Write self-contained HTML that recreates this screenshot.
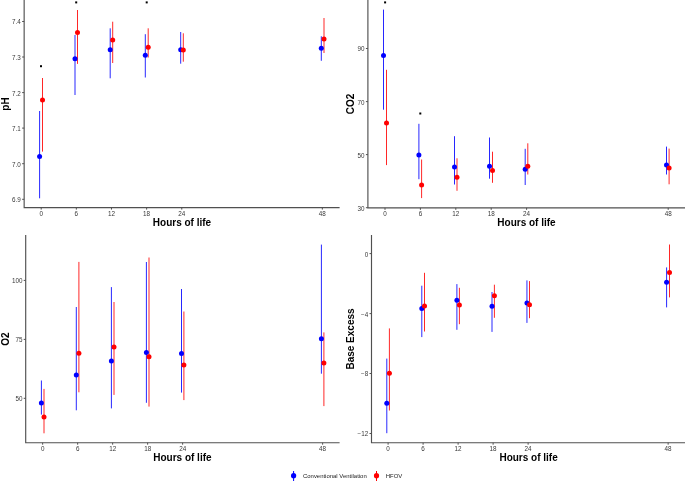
<!DOCTYPE html><html><head><meta charset="utf-8"><style>html,body{margin:0;padding:0;background:#fff;width:685px;height:481px;overflow:hidden;}svg{display:block;}text{font-family:"Liberation Sans",Arial,sans-serif;}</style></head><body>
<svg width="685" height="481" viewBox="0 0 685 481">
<rect width="685" height="481" fill="#fff"/><g>
<line x1="39.6" y1="111" x2="39.6" y2="198.3" stroke="#0000ff" stroke-width="0.85"/>
<line x1="75" y1="35" x2="75" y2="95" stroke="#0000ff" stroke-width="0.85"/>
<line x1="110.2" y1="28.3" x2="110.2" y2="78.3" stroke="#0000ff" stroke-width="0.85"/>
<line x1="145.3" y1="34.2" x2="145.3" y2="77.5" stroke="#0000ff" stroke-width="0.85"/>
<line x1="180.7" y1="32" x2="180.7" y2="63.7" stroke="#0000ff" stroke-width="0.85"/>
<line x1="321.3" y1="36.3" x2="321.3" y2="60.8" stroke="#0000ff" stroke-width="0.85"/>
<line x1="42.5" y1="78" x2="42.5" y2="151.6" stroke="#ff0000" stroke-width="0.85"/>
<line x1="77.5" y1="10" x2="77.5" y2="63.9" stroke="#ff0000" stroke-width="0.85"/>
<line x1="112.7" y1="21.7" x2="112.7" y2="63" stroke="#ff0000" stroke-width="0.85"/>
<line x1="148.2" y1="28.3" x2="148.2" y2="57.5" stroke="#ff0000" stroke-width="0.85"/>
<line x1="183.3" y1="33.3" x2="183.3" y2="61.7" stroke="#ff0000" stroke-width="0.85"/>
<line x1="324" y1="18" x2="324" y2="53" stroke="#ff0000" stroke-width="0.85"/>
<circle cx="39.6" cy="156.5" r="2.5" fill="#0000ff"/>
<circle cx="75" cy="58.7" r="2.5" fill="#0000ff"/>
<circle cx="110.2" cy="49.7" r="2.5" fill="#0000ff"/>
<circle cx="145.3" cy="55.3" r="2.5" fill="#0000ff"/>
<circle cx="180.7" cy="49.7" r="2.5" fill="#0000ff"/>
<circle cx="321.3" cy="48.2" r="2.5" fill="#0000ff"/>
<circle cx="42.5" cy="100" r="2.5" fill="#ff0000"/>
<circle cx="77.5" cy="32.5" r="2.5" fill="#ff0000"/>
<circle cx="112.7" cy="40" r="2.5" fill="#ff0000"/>
<circle cx="148.2" cy="47.2" r="2.5" fill="#ff0000"/>
<circle cx="183.3" cy="50" r="2.5" fill="#ff0000"/>
<circle cx="324" cy="39" r="2.5" fill="#ff0000"/>
<rect x="40" y="65.2" width="2" height="2" fill="#000"/>
<rect x="75.2" y="1.4" width="2" height="2" fill="#000"/>
<rect x="145.7" y="1.4" width="2" height="2" fill="#000"/>
<path d="M24.15 -1V207.6H339.6" fill="none" stroke="#505050" stroke-width="1.15"/>
<line x1="22.15" y1="199.3" x2="24.15" y2="199.3" stroke="#505050" stroke-width="1"/>
<text x="20.849999999999998" y="202.20000000000002" font-size="6.3" fill="#383838" text-anchor="end">6.9</text>
<line x1="22.15" y1="163.7" x2="24.15" y2="163.7" stroke="#505050" stroke-width="1"/>
<text x="20.849999999999998" y="166.6" font-size="6.3" fill="#383838" text-anchor="end">7.0</text>
<line x1="22.15" y1="128.1" x2="24.15" y2="128.1" stroke="#505050" stroke-width="1"/>
<text x="20.849999999999998" y="131.0" font-size="6.3" fill="#383838" text-anchor="end">7.1</text>
<line x1="22.15" y1="92.6" x2="24.15" y2="92.6" stroke="#505050" stroke-width="1"/>
<text x="20.849999999999998" y="95.5" font-size="6.3" fill="#383838" text-anchor="end">7.2</text>
<line x1="22.15" y1="57.0" x2="24.15" y2="57.0" stroke="#505050" stroke-width="1"/>
<text x="20.849999999999998" y="59.9" font-size="6.3" fill="#383838" text-anchor="end">7.3</text>
<line x1="22.15" y1="21.5" x2="24.15" y2="21.5" stroke="#505050" stroke-width="1"/>
<text x="20.849999999999998" y="24.4" font-size="6.3" fill="#383838" text-anchor="end">7.4</text>
<line x1="41.20" y1="207.6" x2="41.20" y2="209.6" stroke="#505050" stroke-width="1"/>
<text x="41.20" y="215.5" font-size="6.3" fill="#383838" text-anchor="middle">0</text>
<line x1="76.34" y1="207.6" x2="76.34" y2="209.6" stroke="#505050" stroke-width="1"/>
<text x="76.34" y="215.5" font-size="6.3" fill="#383838" text-anchor="middle">6</text>
<line x1="111.48" y1="207.6" x2="111.48" y2="209.6" stroke="#505050" stroke-width="1"/>
<text x="111.48" y="215.5" font-size="6.3" fill="#383838" text-anchor="middle">12</text>
<line x1="146.63" y1="207.6" x2="146.63" y2="209.6" stroke="#505050" stroke-width="1"/>
<text x="146.63" y="215.5" font-size="6.3" fill="#383838" text-anchor="middle">18</text>
<line x1="181.77" y1="207.6" x2="181.77" y2="209.6" stroke="#505050" stroke-width="1"/>
<text x="181.77" y="215.5" font-size="6.3" fill="#383838" text-anchor="middle">24</text>
<line x1="322.34" y1="207.6" x2="322.34" y2="209.6" stroke="#505050" stroke-width="1"/>
<text x="322.34" y="215.5" font-size="6.3" fill="#383838" text-anchor="middle">48</text>
<text x="182.0" y="226.0" font-size="10.0" font-weight="bold" fill="#000" text-anchor="middle">Hours of life</text>
<text transform="translate(8.7 104) rotate(-90)" x="0" y="0" font-size="10.0" font-weight="bold" fill="#000" text-anchor="middle">pH</text>
<line x1="383.5" y1="9.6" x2="383.5" y2="109.7" stroke="#0000ff" stroke-width="0.85"/>
<line x1="418.9" y1="123.8" x2="418.9" y2="179.2" stroke="#0000ff" stroke-width="0.85"/>
<line x1="454.5" y1="136.2" x2="454.5" y2="184.5" stroke="#0000ff" stroke-width="0.85"/>
<line x1="489.5" y1="137.5" x2="489.5" y2="178.7" stroke="#0000ff" stroke-width="0.85"/>
<line x1="525.2" y1="148.8" x2="525.2" y2="185" stroke="#0000ff" stroke-width="0.85"/>
<line x1="666.5" y1="146.6" x2="666.5" y2="174.5" stroke="#0000ff" stroke-width="0.85"/>
<line x1="386.5" y1="69.8" x2="386.5" y2="165.1" stroke="#ff0000" stroke-width="0.85"/>
<line x1="421.6" y1="159.5" x2="421.6" y2="198.1" stroke="#ff0000" stroke-width="0.85"/>
<line x1="457" y1="158.3" x2="457" y2="190.8" stroke="#ff0000" stroke-width="0.85"/>
<line x1="492.5" y1="151.7" x2="492.5" y2="182.8" stroke="#ff0000" stroke-width="0.85"/>
<line x1="527.8" y1="143.3" x2="527.8" y2="174.5" stroke="#ff0000" stroke-width="0.85"/>
<line x1="669.1" y1="148.6" x2="669.1" y2="184.3" stroke="#ff0000" stroke-width="0.85"/>
<circle cx="383.5" cy="55.4" r="2.5" fill="#0000ff"/>
<circle cx="418.9" cy="155.1" r="2.5" fill="#0000ff"/>
<circle cx="454.5" cy="167" r="2.5" fill="#0000ff"/>
<circle cx="489.5" cy="166.3" r="2.5" fill="#0000ff"/>
<circle cx="525.2" cy="169.3" r="2.5" fill="#0000ff"/>
<circle cx="666.5" cy="164.9" r="2.5" fill="#0000ff"/>
<circle cx="386.5" cy="123" r="2.5" fill="#ff0000"/>
<circle cx="421.6" cy="184.9" r="2.5" fill="#ff0000"/>
<circle cx="457" cy="177.2" r="2.5" fill="#ff0000"/>
<circle cx="492.5" cy="170.5" r="2.5" fill="#ff0000"/>
<circle cx="527.8" cy="166.3" r="2.5" fill="#ff0000"/>
<circle cx="669.1" cy="168.0" r="2.5" fill="#ff0000"/>
<rect x="384.1" y="1.4" width="2" height="2" fill="#000"/>
<rect x="419.3" y="112.5" width="2" height="2" fill="#000"/>
<path d="M367.9 -1V207.85H686" fill="none" stroke="#505050" stroke-width="1.15"/>
<line x1="365.9" y1="207.7" x2="367.9" y2="207.7" stroke="#505050" stroke-width="1"/>
<text x="364.59999999999997" y="210.6" font-size="6.3" fill="#383838" text-anchor="end">30</text>
<line x1="365.9" y1="154.6" x2="367.9" y2="154.6" stroke="#505050" stroke-width="1"/>
<text x="364.59999999999997" y="157.5" font-size="6.3" fill="#383838" text-anchor="end">50</text>
<line x1="365.9" y1="101.6" x2="367.9" y2="101.6" stroke="#505050" stroke-width="1"/>
<text x="364.59999999999997" y="104.5" font-size="6.3" fill="#383838" text-anchor="end">70</text>
<line x1="365.9" y1="48.5" x2="367.9" y2="48.5" stroke="#505050" stroke-width="1"/>
<text x="364.59999999999997" y="51.4" font-size="6.3" fill="#383838" text-anchor="end">90</text>
<line x1="385.00" y1="207.85" x2="385.00" y2="209.85" stroke="#505050" stroke-width="1"/>
<text x="385.00" y="215.75" font-size="6.3" fill="#383838" text-anchor="middle">0</text>
<line x1="420.40" y1="207.85" x2="420.40" y2="209.85" stroke="#505050" stroke-width="1"/>
<text x="420.40" y="215.75" font-size="6.3" fill="#383838" text-anchor="middle">6</text>
<line x1="455.80" y1="207.85" x2="455.80" y2="209.85" stroke="#505050" stroke-width="1"/>
<text x="455.80" y="215.75" font-size="6.3" fill="#383838" text-anchor="middle">12</text>
<line x1="491.20" y1="207.85" x2="491.20" y2="209.85" stroke="#505050" stroke-width="1"/>
<text x="491.20" y="215.75" font-size="6.3" fill="#383838" text-anchor="middle">18</text>
<line x1="526.60" y1="207.85" x2="526.60" y2="209.85" stroke="#505050" stroke-width="1"/>
<text x="526.60" y="215.75" font-size="6.3" fill="#383838" text-anchor="middle">24</text>
<line x1="668.20" y1="207.85" x2="668.20" y2="209.85" stroke="#505050" stroke-width="1"/>
<text x="668.20" y="215.75" font-size="6.3" fill="#383838" text-anchor="middle">48</text>
<text x="526.5" y="226.0" font-size="10.0" font-weight="bold" fill="#000" text-anchor="middle">Hours of life</text>
<text transform="translate(354.2 103.85) rotate(-90)" x="0" y="0" font-size="10.0" font-weight="bold" fill="#000" text-anchor="middle">CO2</text>
<line x1="41.4" y1="380.5" x2="41.4" y2="414.6" stroke="#0000ff" stroke-width="0.85"/>
<line x1="76.3" y1="307" x2="76.3" y2="410.3" stroke="#0000ff" stroke-width="0.85"/>
<line x1="111.4" y1="287.1" x2="111.4" y2="408.4" stroke="#0000ff" stroke-width="0.85"/>
<line x1="146.4" y1="262" x2="146.4" y2="402.8" stroke="#0000ff" stroke-width="0.85"/>
<line x1="181.5" y1="289" x2="181.5" y2="392.6" stroke="#0000ff" stroke-width="0.85"/>
<line x1="321.4" y1="244.6" x2="321.4" y2="373.7" stroke="#0000ff" stroke-width="0.85"/>
<line x1="44.0" y1="388.9" x2="44.0" y2="433.3" stroke="#ff0000" stroke-width="0.85"/>
<line x1="78.9" y1="261.9" x2="78.9" y2="392.3" stroke="#ff0000" stroke-width="0.85"/>
<line x1="114.0" y1="302" x2="114.0" y2="394.9" stroke="#ff0000" stroke-width="0.85"/>
<line x1="149" y1="257.5" x2="149" y2="406.6" stroke="#ff0000" stroke-width="0.85"/>
<line x1="183.9" y1="311.5" x2="183.9" y2="400.1" stroke="#ff0000" stroke-width="0.85"/>
<line x1="323.9" y1="332.4" x2="323.9" y2="406.1" stroke="#ff0000" stroke-width="0.85"/>
<circle cx="41.4" cy="402.9" r="2.5" fill="#0000ff"/>
<circle cx="76.3" cy="375.1" r="2.5" fill="#0000ff"/>
<circle cx="111.4" cy="360.9" r="2.5" fill="#0000ff"/>
<circle cx="146.4" cy="352.4" r="2.5" fill="#0000ff"/>
<circle cx="181.5" cy="353.5" r="2.5" fill="#0000ff"/>
<circle cx="321.4" cy="338.8" r="2.5" fill="#0000ff"/>
<circle cx="44.0" cy="416.9" r="2.5" fill="#ff0000"/>
<circle cx="78.9" cy="353.2" r="2.5" fill="#ff0000"/>
<circle cx="114.0" cy="346.9" r="2.5" fill="#ff0000"/>
<circle cx="149" cy="356.7" r="2.5" fill="#ff0000"/>
<circle cx="183.9" cy="365.1" r="2.5" fill="#ff0000"/>
<circle cx="323.9" cy="363.1" r="2.5" fill="#ff0000"/>
<path d="M25.7 235V442.7H339.6" fill="none" stroke="#505050" stroke-width="1.15"/>
<line x1="23.7" y1="398.3" x2="25.7" y2="398.3" stroke="#505050" stroke-width="1"/>
<text x="22.4" y="401.2" font-size="6.3" fill="#383838" text-anchor="end">50</text>
<line x1="23.7" y1="339.4" x2="25.7" y2="339.4" stroke="#505050" stroke-width="1"/>
<text x="22.4" y="342.29999999999995" font-size="6.3" fill="#383838" text-anchor="end">75</text>
<line x1="23.7" y1="280.4" x2="25.7" y2="280.4" stroke="#505050" stroke-width="1"/>
<text x="22.4" y="283.29999999999995" font-size="6.3" fill="#383838" text-anchor="end">100</text>
<line x1="42.65" y1="442.7" x2="42.65" y2="444.7" stroke="#505050" stroke-width="1"/>
<text x="42.65" y="450.59999999999997" font-size="6.3" fill="#383838" text-anchor="middle">0</text>
<line x1="77.65" y1="442.7" x2="77.65" y2="444.7" stroke="#505050" stroke-width="1"/>
<text x="77.65" y="450.59999999999997" font-size="6.3" fill="#383838" text-anchor="middle">6</text>
<line x1="112.65" y1="442.7" x2="112.65" y2="444.7" stroke="#505050" stroke-width="1"/>
<text x="112.65" y="450.59999999999997" font-size="6.3" fill="#383838" text-anchor="middle">12</text>
<line x1="147.64" y1="442.7" x2="147.64" y2="444.7" stroke="#505050" stroke-width="1"/>
<text x="147.64" y="450.59999999999997" font-size="6.3" fill="#383838" text-anchor="middle">18</text>
<line x1="182.64" y1="442.7" x2="182.64" y2="444.7" stroke="#505050" stroke-width="1"/>
<text x="182.64" y="450.59999999999997" font-size="6.3" fill="#383838" text-anchor="middle">24</text>
<line x1="322.63" y1="442.7" x2="322.63" y2="444.7" stroke="#505050" stroke-width="1"/>
<text x="322.63" y="450.59999999999997" font-size="6.3" fill="#383838" text-anchor="middle">48</text>
<text x="182.4" y="461.1" font-size="10.0" font-weight="bold" fill="#000" text-anchor="middle">Hours of life</text>
<text transform="translate(8.6 339) rotate(-90)" x="0" y="0" font-size="10.0" font-weight="bold" fill="#000" text-anchor="middle">O2</text>
<line x1="386.8" y1="358.6" x2="386.8" y2="433.2" stroke="#0000ff" stroke-width="0.85"/>
<line x1="421.8" y1="285.7" x2="421.8" y2="337.1" stroke="#0000ff" stroke-width="0.85"/>
<line x1="456.9" y1="284.1" x2="456.9" y2="329.8" stroke="#0000ff" stroke-width="0.85"/>
<line x1="492.0" y1="292" x2="492.0" y2="331.9" stroke="#0000ff" stroke-width="0.85"/>
<line x1="526.95" y1="280.4" x2="526.95" y2="322.9" stroke="#0000ff" stroke-width="0.85"/>
<line x1="666.6" y1="267.4" x2="666.6" y2="307.4" stroke="#0000ff" stroke-width="0.85"/>
<line x1="389.4" y1="328.4" x2="389.4" y2="410.5" stroke="#ff0000" stroke-width="0.85"/>
<line x1="424.5" y1="272.8" x2="424.5" y2="331.5" stroke="#ff0000" stroke-width="0.85"/>
<line x1="459.4" y1="287.8" x2="459.4" y2="324.2" stroke="#ff0000" stroke-width="0.85"/>
<line x1="494.4" y1="284.7" x2="494.4" y2="317.8" stroke="#ff0000" stroke-width="0.85"/>
<line x1="529.5" y1="281.1" x2="529.5" y2="318.2" stroke="#ff0000" stroke-width="0.85"/>
<line x1="669.5" y1="244.5" x2="669.5" y2="297.4" stroke="#ff0000" stroke-width="0.85"/>
<circle cx="386.8" cy="403.2" r="2.5" fill="#0000ff"/>
<circle cx="421.8" cy="308.6" r="2.5" fill="#0000ff"/>
<circle cx="456.9" cy="300.3" r="2.5" fill="#0000ff"/>
<circle cx="492.0" cy="306.3" r="2.5" fill="#0000ff"/>
<circle cx="526.95" cy="303.1" r="2.5" fill="#0000ff"/>
<circle cx="666.6" cy="282.3" r="2.5" fill="#0000ff"/>
<circle cx="389.4" cy="373.2" r="2.5" fill="#ff0000"/>
<circle cx="424.5" cy="306.1" r="2.5" fill="#ff0000"/>
<circle cx="459.4" cy="304.9" r="2.5" fill="#ff0000"/>
<circle cx="494.4" cy="295.7" r="2.5" fill="#ff0000"/>
<circle cx="529.5" cy="304.8" r="2.5" fill="#ff0000"/>
<circle cx="669.5" cy="272.6" r="2.5" fill="#ff0000"/>
<path d="M371.5 235V442.7H686" fill="none" stroke="#505050" stroke-width="1.15"/>
<line x1="369.5" y1="253.6" x2="371.5" y2="253.6" stroke="#505050" stroke-width="1"/>
<text x="368.2" y="256.5" font-size="6.3" fill="#383838" text-anchor="end">0</text>
<line x1="369.5" y1="313.6" x2="371.5" y2="313.6" stroke="#505050" stroke-width="1"/>
<text x="368.2" y="316.5" font-size="6.3" fill="#383838" text-anchor="end">−4</text>
<line x1="369.5" y1="373.5" x2="371.5" y2="373.5" stroke="#505050" stroke-width="1"/>
<text x="368.2" y="376.4" font-size="6.3" fill="#383838" text-anchor="end">−8</text>
<line x1="369.5" y1="433.5" x2="371.5" y2="433.5" stroke="#505050" stroke-width="1"/>
<text x="368.2" y="436.4" font-size="6.3" fill="#383838" text-anchor="end">−12</text>
<line x1="388.10" y1="442.7" x2="388.10" y2="444.7" stroke="#505050" stroke-width="1"/>
<text x="388.10" y="450.59999999999997" font-size="6.3" fill="#383838" text-anchor="middle">0</text>
<line x1="423.10" y1="442.7" x2="423.10" y2="444.7" stroke="#505050" stroke-width="1"/>
<text x="423.10" y="450.59999999999997" font-size="6.3" fill="#383838" text-anchor="middle">6</text>
<line x1="458.11" y1="442.7" x2="458.11" y2="444.7" stroke="#505050" stroke-width="1"/>
<text x="458.11" y="450.59999999999997" font-size="6.3" fill="#383838" text-anchor="middle">12</text>
<line x1="493.11" y1="442.7" x2="493.11" y2="444.7" stroke="#505050" stroke-width="1"/>
<text x="493.11" y="450.59999999999997" font-size="6.3" fill="#383838" text-anchor="middle">18</text>
<line x1="528.12" y1="442.7" x2="528.12" y2="444.7" stroke="#505050" stroke-width="1"/>
<text x="528.12" y="450.59999999999997" font-size="6.3" fill="#383838" text-anchor="middle">24</text>
<line x1="668.13" y1="442.7" x2="668.13" y2="444.7" stroke="#505050" stroke-width="1"/>
<text x="668.13" y="450.59999999999997" font-size="6.3" fill="#383838" text-anchor="middle">48</text>
<text x="528.6" y="461.1" font-size="10.0" font-weight="bold" fill="#000" text-anchor="middle">Hours of life</text>
<text transform="translate(354.2 339) rotate(-90)" x="0" y="0" font-size="10.0" font-weight="bold" fill="#000" text-anchor="middle">Base Excess</text>
<line x1="293.6" y1="471" x2="293.6" y2="481" stroke="#0000ff" stroke-width="1"/><circle cx="293.6" cy="475.7" r="2.6" fill="#0000ff"/>
<text x="303" y="477.8" font-size="5.95" fill="#222">Conventional Ventilation</text>
<line x1="376.5" y1="471" x2="376.5" y2="481" stroke="#ff0000" stroke-width="1"/><circle cx="376.5" cy="475.7" r="2.6" fill="#ff0000"/>
<text x="385.8" y="477.8" font-size="5.95" fill="#222">HFOV</text>
</g></svg></body></html>
